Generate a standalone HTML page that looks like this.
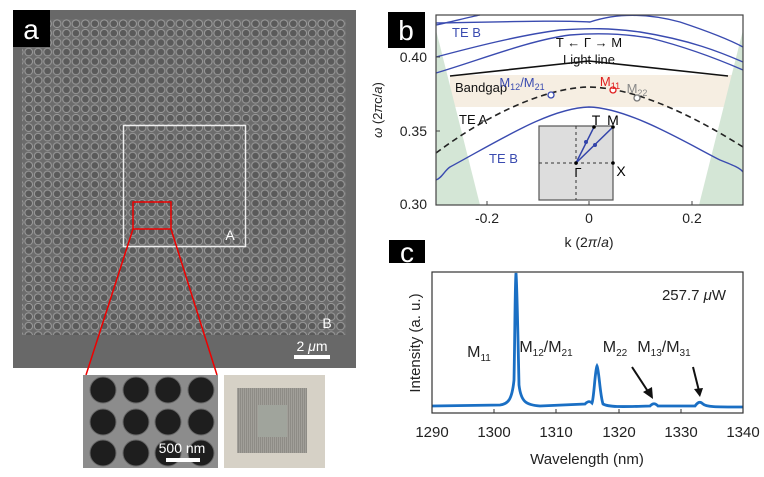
<!DOCTYPE html>
<html><head><meta charset="utf-8"><style>
html,body{margin:0;padding:0;background:#fff;}
svg{display:block;font-family:"Liberation Sans",Arial,sans-serif;}
</style></head><body>
<svg width="764" height="477" viewBox="0 0 764 477" xmlns="http://www.w3.org/2000/svg">
<defs>
<pattern id="holes" x="24" y="19" width="9.45" height="9.45" patternUnits="userSpaceOnUse">
<rect width="9.45" height="9.45" fill="#6c6c6c"/>
<circle cx="4.7" cy="4.7" r="4.3" fill="#9c9c9c"/>
<circle cx="4.7" cy="4.7" r="3.3" fill="#5a5a5a"/>
</pattern>
<pattern id="mesh" width="2" height="2" patternUnits="userSpaceOnUse">
<rect width="2" height="2" fill="#a19f99"/><rect width="1" height="2" fill="#8e8c86"/>
</pattern>
</defs>
<!-- panel a -->
<rect x="13" y="10" width="343" height="358" fill="#686868"/>
<rect x="22" y="19" width="324" height="316" fill="url(#holes)"/>
<rect x="13" y="10" width="37" height="37" fill="#000"/>
<text x="31" y="39" font-size="28" fill="#fff" text-anchor="middle">a</text>
<rect x="123.5" y="125.5" width="122" height="121" fill="none" stroke="#eee" stroke-width="1.5"/>
<text x="230" y="240" font-size="14" fill="#fff" text-anchor="middle">A</text>
<text x="327" y="328" font-size="14" fill="#fff" text-anchor="middle">B</text>
<text x="312" y="351" font-size="14" fill="#fff" text-anchor="middle">2 <tspan font-style="italic">μ</tspan>m</text>
<rect x="294" y="355" width="36" height="4" fill="#fff"/>
<rect x="133" y="202" width="38" height="27" fill="none" stroke="#e00" stroke-width="1.5"/>
<line x1="133" y1="229" x2="86" y2="375" stroke="#e00" stroke-width="1.5"/>
<line x1="171" y1="229" x2="217" y2="375" stroke="#e00" stroke-width="1.5"/>
<!-- inset left -->
<rect x="83" y="375" width="135" height="93" fill="#8c8c8c"/>
<g fill="#1e1e1e" stroke="#666" stroke-width="1">
<circle cx="103" cy="390" r="13"/><circle cx="136" cy="390" r="13"/><circle cx="168" cy="390" r="13"/><circle cx="201" cy="390" r="13"/>
<circle cx="103" cy="422" r="13"/><circle cx="136" cy="422" r="13"/><circle cx="168" cy="422" r="13"/><circle cx="201" cy="422" r="13"/>
<circle cx="103" cy="453" r="13"/><circle cx="136" cy="453" r="13"/><circle cx="168" cy="453" r="13"/><circle cx="201" cy="453" r="13"/>
</g>
<text x="182" y="453" font-size="14" fill="#fff" text-anchor="middle">500 nm</text>
<rect x="166" y="458" width="34" height="4" fill="#fff"/>
<!-- inset right -->
<rect x="224" y="375" width="101" height="93" fill="#d6d1c6"/>
<rect x="237" y="388" width="70" height="65" fill="url(#mesh)"/>
<rect x="258" y="405" width="29" height="32" fill="#a0a49c"/>
<!-- panel b -->
<rect x="388" y="12" width="37" height="36" fill="#000"/>
<text x="406" y="40" font-size="28" fill="#fff" text-anchor="middle">b</text>
<rect x="450" y="75" width="293" height="32" fill="#f6eee2"/>
<polygon points="436,30 480,205 436,205" fill="#d4e6d6"/>
<polygon points="743,30 699,205 743,205" fill="#d4e6d6"/>
<!-- inset BZ -->
<rect x="539" y="126" width="74" height="74" fill="#ddd" stroke="#555" stroke-width="1.2"/>
<line x1="576" y1="126" x2="576" y2="200" stroke="#333" stroke-dasharray="3,3"/>
<line x1="539" y1="163" x2="613" y2="163" stroke="#333" stroke-dasharray="3,3"/>
<line x1="576" y1="163" x2="594" y2="127" stroke="#3344aa" stroke-width="1.5"/>
<line x1="576" y1="163" x2="613" y2="127" stroke="#3344aa" stroke-width="1.5"/>
<circle cx="576" cy="163" r="1.8" fill="#000"/><circle cx="594" cy="127" r="1.8" fill="#000"/><circle cx="613" cy="127" r="1.8" fill="#000"/><circle cx="613" cy="163" r="1.8" fill="#000"/>
<circle cx="586" cy="142" r="2" fill="#3344aa"/><circle cx="595" cy="145" r="2" fill="#3344aa"/>
<text x="596" y="125" font-size="14" fill="#000" text-anchor="middle">T</text>
<text x="613" y="125" font-size="14" fill="#000" text-anchor="middle">M</text>
<text x="578" y="177" font-size="13" fill="#000" text-anchor="middle">Γ</text>
<text x="621" y="176" font-size="14" fill="#000" text-anchor="middle">X</text>
<!-- bands -->
<g fill="none" stroke="#3a4bb0" stroke-width="1.4">
<path d="M436,25 C450,22 470,17 480,15"/>
<path d="M436,23 C500,22 560,20 590,22 C620,12 650,14 680,22 C710,32 730,40 743,47"/>
<path d="M436,57 C470,48 520,35 560,30 C590,28 610,28 640,32 C690,40 720,52 743,62"/>
<path d="M436,73 C480,60 530,40 570,35 C595,33 620,33 650,38 C690,48 720,60 743,70"/>
<path d="M436,180 C442,178 445,170 450,167 C500,140 550,108 589,107 C630,108 690,145 720,160 C735,166 740,168 743,172"/>
</g>
<path d="M450,76 L589,61 L728,76" fill="none" stroke="#111" stroke-width="1.6"/>
<path d="M436,153 C480,120 540,88 589,87 C640,88 700,120 743,147" fill="none" stroke="#222" stroke-width="1.6" stroke-dasharray="6,4"/>
<circle cx="551" cy="95" r="3" fill="#fff" stroke="#3a4bb0" stroke-width="1.3"/>
<circle cx="613" cy="90" r="3" fill="#fff" stroke="#e02020" stroke-width="1.3"/>
<circle cx="637" cy="98" r="3" fill="#fff" stroke="#777" stroke-width="1.3"/>
<text x="452" y="37" font-size="13" fill="#3a4bb0">TE B</text>
<text x="589" y="47" font-size="13" fill="#111" text-anchor="middle">T ← Γ → M</text>
<text x="589" y="64" font-size="13" fill="#111" text-anchor="middle">Light line</text>
<text x="455" y="92" font-size="13" fill="#111">Bandgap</text>
<text x="522" y="87" font-size="13" fill="#3a4bb0" text-anchor="middle">M<tspan font-size="9" dy="3">12</tspan><tspan dy="-3">/M</tspan><tspan font-size="9" dy="3">21</tspan></text>
<text x="610" y="86" font-size="13" fill="#e02020" text-anchor="middle">M<tspan font-size="9" dy="3">11</tspan></text>
<text x="637" y="93" font-size="13" fill="#888" text-anchor="middle">M<tspan font-size="9" dy="3">22</tspan></text>
<text x="459" y="124" font-size="13" fill="#111">TE A</text>
<text x="489" y="163" font-size="13" fill="#3a4bb0">TE B</text>
<rect x="436" y="15" width="307" height="190" fill="none" stroke="#444" stroke-width="1.2"/>
<g stroke="#444"><line x1="436" y1="57" x2="440" y2="57"/><line x1="436" y1="131" x2="440" y2="131"/><line x1="487" y1="205" x2="487" y2="201"/><line x1="589" y1="205" x2="589" y2="201"/><line x1="692" y1="205" x2="692" y2="201"/></g>
<g font-size="14" fill="#222" text-anchor="end"><text x="427" y="62">0.40</text><text x="427" y="136">0.35</text><text x="427" y="209">0.30</text></g>
<g font-size="14" fill="#222" text-anchor="middle"><text x="487" y="223">-0.2</text><text x="589" y="223">0</text><text x="692" y="223">0.2</text></g>
<text x="589" y="247" font-size="14" fill="#222" text-anchor="middle">k (2<tspan font-style="italic">π</tspan>/<tspan font-style="italic">a</tspan>)</text>
<text transform="translate(382,110) rotate(-90)" font-size="13" fill="#222" text-anchor="middle"><tspan font-style="italic">ω</tspan> (2<tspan font-style="italic">π</tspan>c/<tspan font-style="italic">a</tspan>)</text>
<!-- panel c -->
<rect x="389" y="240" width="36" height="23" fill="#000"/>
<text x="407" y="262" font-size="28" fill="#fff" text-anchor="middle">c</text>
<path d="M432,406 L500,405 C508,404 512,400 514,380 C515,330 515,285 516,273 C517,285 518,340 519,385 C521,402 526,405 540,406 L585,404 C588,401 590,401 592,403 C594,398 595,370 597,366 C599,370 600,395 603,404 C608,407 620,407 650,406 C653,403 655,403 658,406 L695,406 C698,402 700,401 703,404 C706,407 715,407 743,407" fill="none" stroke="#1a6fc4" stroke-width="2.8"/>
<rect x="432" y="272" width="311" height="141" fill="none" stroke="#333" stroke-width="1.2"/>
<g stroke="#333"><line x1="494" y1="413" x2="494" y2="409"/><line x1="556" y1="413" x2="556" y2="409"/><line x1="619" y1="413" x2="619" y2="409"/><line x1="681" y1="413" x2="681" y2="409"/></g>
<g font-size="15" fill="#222" text-anchor="middle"><text x="432" y="437">1290</text><text x="494" y="437">1300</text><text x="556" y="437">1310</text><text x="619" y="437">1320</text><text x="681" y="437">1330</text><text x="743" y="437">1340</text></g>
<text x="587" y="464" font-size="15" fill="#222" text-anchor="middle">Wavelength (nm)</text>
<text transform="translate(420,343) rotate(-90)" font-size="15" fill="#222" text-anchor="middle">Intensity (a. u.)</text>
<text x="694" y="300" font-size="15" fill="#222" text-anchor="middle">257.7 <tspan font-style="italic">μ</tspan>W</text>
<g font-size="16" fill="#222" text-anchor="middle">
<text x="479" y="357">M<tspan font-size="10" dy="4">11</tspan></text>
<text x="546" y="352">M<tspan font-size="10" dy="4">12</tspan><tspan dy="-4">/M</tspan><tspan font-size="10" dy="4">21</tspan></text>
<text x="615" y="352">M<tspan font-size="10" dy="4">22</tspan></text>
<text x="664" y="352">M<tspan font-size="10" dy="4">13</tspan><tspan dy="-4">/M</tspan><tspan font-size="10" dy="4">31</tspan></text>
</g>
<g stroke="#111" stroke-width="2"><line x1="632" y1="367" x2="649" y2="393"/><line x1="693" y1="367" x2="699" y2="391"/></g>
<polygon points="653,399 643,392 652,387" fill="#111"/>
<polygon points="700,397 694,389 703,388" fill="#111"/>
</svg>
</body></html>
